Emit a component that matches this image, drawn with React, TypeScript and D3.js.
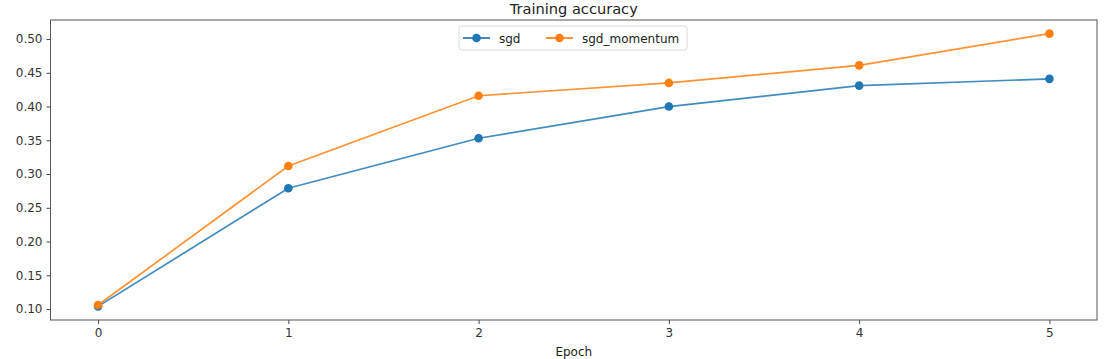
import * as d3 from "d3";
import React from "react";

const epochs = [0, 1, 2, 3, 4, 5];
const sgd = [0.104, 0.279, 0.353, 0.4, 0.431, 0.441];
const sgdMomentum = [0.106, 0.312, 0.416, 0.435, 0.461, 0.508];
const yTicks = [0.1, 0.15, 0.2, 0.25, 0.3, 0.35, 0.4, 0.45, 0.5];
const seriesNames = ["sgd", "sgd_momentum"];
const colors = ["#1f77b4", "#ff7f0e"];

const width = 1109;
const height = 359;
const margin = { top: 20, right: 12, bottom: 39, left: 50.5 };
const font = "DejaVu Sans, sans-serif";

export default function App() {
  const svgRef = React.useRef<SVGSVGElement>(null);

  React.useEffect(() => {
    const svg = d3.select(svgRef.current);
    svg.selectAll("*").remove();

    const allValues = [...sgd, ...sgdMomentum];
    const yMin = d3.min(allValues) ?? 0;
    const yMax = d3.max(allValues) ?? 1;
    const yPad = (yMax - yMin) * 0.05;

    const x = d3
      .scaleLinear()
      .domain([-0.25, 5.25])
      .range([margin.left, width - margin.right]);
    const y = d3
      .scaleLinear()
      .domain([yMin - yPad, yMax + yPad])
      .range([height - margin.bottom, margin.top]);

    // Axes
    const xAxis = svg
      .append("g")
      .attr("transform", `translate(0,${height - margin.bottom})`)
      .call(d3.axisBottom(x).tickValues(epochs).tickFormat(d3.format("d")).tickSize(4).tickPadding(4).tickSizeOuter(0));
    const yAxis = svg
      .append("g")
      .attr("transform", `translate(${margin.left},0)`)
      .call(d3.axisLeft(y).tickValues(yTicks).tickFormat(d3.format(".2f")).tickSize(4).tickPadding(4).tickSizeOuter(0));
    [xAxis, yAxis].forEach((g) => {
      g.select(".domain").remove();
      g.selectAll("line").attr("stroke", "#444").attr("stroke-width", 1);
      g.selectAll("text").attr("fill", "#333").style("font-family", font).style("font-size", "12px");
    });

    // Frame
    svg
      .append("rect")
      .attr("x", margin.left)
      .attr("y", margin.top)
      .attr("width", width - margin.left - margin.right)
      .attr("height", height - margin.top - margin.bottom)
      .attr("fill", "none")
      .attr("stroke", "#555")
      .attr("stroke-width", 1);

    // Lines
    const line = d3
      .line<number>()
      .x((_, i) => x(epochs[i]))
      .y((d) => y(d));

    [sgd, sgdMomentum].forEach((values, k) => {
      svg
        .append("path")
        .datum(values)
        .attr("d", line)
        .attr("fill", "none")
        .attr("stroke", colors[k])
        .attr("stroke-opacity", 0.85)
        .attr("stroke-width", 1.7);
      svg
        .selectAll(`.pt${k}`)
        .data(values)
        .enter()
        .append("circle")
        .attr("class", `pt${k}`)
        .attr("cx", (_, i) => x(epochs[i]))
        .attr("cy", (d) => y(d))
        .attr("r", 4.3)
        .attr("fill", colors[k]);
    });

    // Title and label
    svg
      .append("text")
      .attr("x", (margin.left + width - margin.right) / 2)
      .attr("y", 14)
      .attr("text-anchor", "middle")
      .style("font-family", font)
      .style("font-size", "14.6px")
      .attr("fill", "#222")
      .text("Training accuracy");

    svg
      .append("text")
      .attr("x", (margin.left + width - margin.right) / 2)
      .attr("y", 356)
      .attr("text-anchor", "middle")
      .style("font-family", font)
      .style("font-size", "12px")
      .attr("fill", "#222")
      .text("Epoch");

    // Legend
    const legend = svg.append("g").attr("transform", "translate(459,26)");
    legend
      .append("rect")
      .attr("width", 228)
      .attr("height", 24)
      .attr("rx", 2.5)
      .attr("fill", "white")
      .attr("fill-opacity", 0.8)
      .attr("stroke", "#d9d9d9");
    const offsets = [4, 87];
    seriesNames.forEach((name, k) => {
      const g = legend.append("g").attr("transform", `translate(${offsets[k]},12)`);
      g.append("line").attr("x1", 0).attr("x2", 27).attr("stroke", colors[k]).attr("stroke-width", 1.7);
      g.append("circle").attr("cx", 13.5).attr("r", 4.3).attr("fill", colors[k]);
      g.append("text")
        .attr("x", 36)
        .attr("y", 4.5)
        .style("font-family", font)
        .style("font-size", "12px")
        .attr("fill", "#222")
        .text(name);
    });
  }, []);

  return (
    <svg
      ref={svgRef}
      width={width}
      height={height}
      style={{ position: "absolute", left: 0, top: 0, background: "white" }}
    ></svg>
  );
}
